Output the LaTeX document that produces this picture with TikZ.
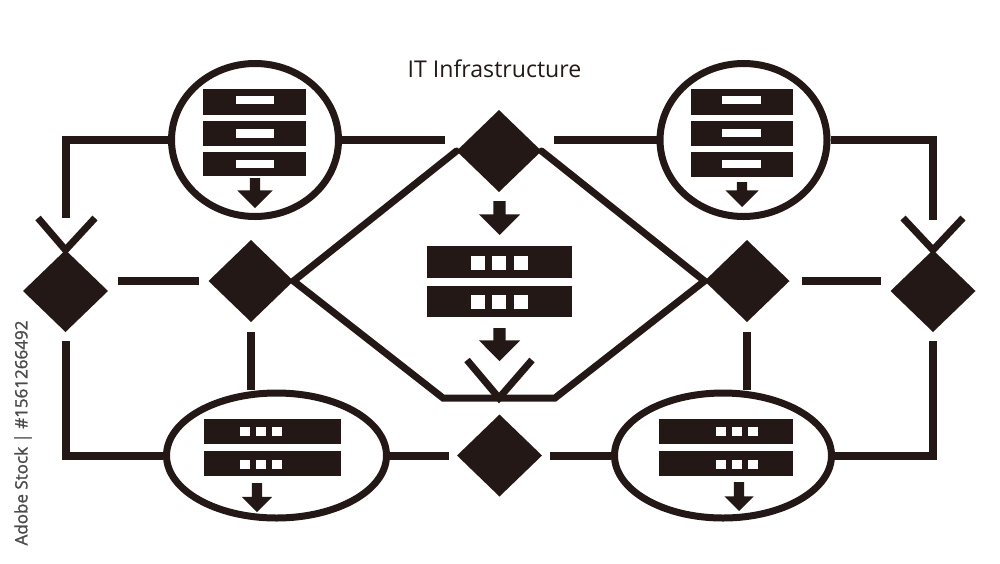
\documentclass[tikz,border=0pt]{standalone}
\usepackage{fontspec}
\setmainfont{Open Sans}
\newfontfamily\stockfont[FakeBold=1.4]{Open Sans}
\usetikzlibrary{shapes.geometric,shapes.arrows}
\definecolor{inkdark}{HTML}{231815}
\definecolor{stockgray}{HTML}{4A4A4A}
\tikzset{
  gate/.style={diamond,fill=inkdark,inner sep=0pt,outer sep=0pt,minimum width=85pt,minimum height=82pt},
  hub/.style={ellipse,draw=inkdark,line width=7pt,fill=white,inner sep=0pt},
  rack/.style={rectangle,fill=inkdark,inner sep=0pt,outer sep=0pt},
  slot/.style={rectangle,fill=white,inner sep=0pt,outer sep=0pt},
  downarrow/.style={single arrow,shape border rotate=270,fill=inkdark,outer sep=0pt,
    single arrow tip angle=90,anchor=tip},
  link/.style={draw=inkdark,line width=8pt},
}
\begin{document}
\begin{tikzpicture}[x=1pt,y=-1pt]
\useasboundingbox (0,0) rectangle (1000,563);

\node[font=\fontsize{23.1}{26}\selectfont,text=inkdark] (title) at (494.5,69) {IT Infrastructure};
\node[font=\stockfont\fontsize{17}{20}\selectfont,text=stockgray,rotate=90] (stock) at (23,433) {Adobe Stock | \#1561266492};

% hubs and gates
\node[hub,minimum width=167pt,minimum height=153pt] (hubNW) at (255,140) {};
\node[hub,minimum width=167pt,minimum height=153pt] (hubNE) at (743.5,140) {};
\node[hub,minimum width=220pt,minimum height=125pt] (hubSW) at (276.5,455.5) {};
\node[hub,minimum width=217pt,minimum height=125pt] (hubSE) at (723,455.5) {};

\node[gate] (gateTop) at (499,151) {};
\node[gate] (gateBot) at (499.5,455.5) {};
\node[gate] (gateFL) at (65.5,291) {};
\node[gate] (gateL) at (251,281) {};
\node[gate] (gateR) at (747,281) {};
\node[gate] (gateFR) at (933,291) {};

\coordinate (hexL) at (443,398);
\coordinate (hexR) at (555,398);
\coordinate (veeA) at (38,218);
\coordinate (veeB) at (95,218);
\coordinate (veeC) at (903,218);
\coordinate (veeD) at (963,218);
\coordinate (veeE) at (467,360);
\coordinate (veeF) at (532,360);

% connectors
\draw[link,line width=7pt,line cap=round] (gateL.east) -- (gateTop.west);
\draw[link,line width=7pt,line cap=round] (gateTop.east) -- (gateR.west);
\draw[link,line width=7pt,line cap=round] (gateL.east) -- (hexL) -- (hexR) -- (gateR.west);

\draw[link,shorten >=32pt] (hubNW.west) -| (gateFL.north);
\draw[link,shorten >=30pt] (hubNE.east) -| (gateFR.north);
\draw[link,shorten >=12pt] (hubNW.east) -- (hubNW.east -| gateTop.west);
\draw[link,shorten >=12pt] (hubNE.west) -- (hubNE.west -| gateTop.east);
\draw[link,shorten <=10pt,shorten >=10pt] (gateFL.east |- gateL.west) -- (gateL.west);
\draw[link,shorten <=12pt,shorten >=10pt] (gateR.east) -- (gateR.east -| gateFR.west);
\draw[link,shorten <=9pt] (gateFL.south) |- (hubSW.west);
\draw[link,shorten <=9pt] (gateFR.south) |- (hubSE.east);
\draw[link,shorten <=10pt] (gateL.south) -- (gateL.south |- hubSW.north);
\draw[link,shorten <=10pt] (gateR.south) -- (gateR.south |- hubSE.north);
\draw[link,shorten >=8pt] (hubSW.east) -- (gateBot.west);
\draw[link,shorten >=8pt] (hubSE.west) -- (gateBot.east);

\draw[link,line width=7pt] (veeA) -- (gateFL.north) -- (veeB);
\draw[link,line width=7pt] (veeC) -- (gateFR.north) -- (veeD);
\draw[link,line width=7pt] (veeE) -- (499,398) -- (veeF);

% racks
\foreach \n/\x/\y/\w/\h in {rA/254.5/102/103/26,rB/254.5/133.5/103/25,rC/254.5/164/103/24,
    rD/742/102/102/26,rE/742/133.5/102/25,rF/742/164.5/102/25,
    rG/499.5/262/145/32,rH/499.5/301.5/145/31,
    rJ/272.5/431.5/137/25,rK/272.5/463.5/137/25,
    rL/726/431.5/134/25,rM/726/463.5/134/25}
  \node[rack,minimum width=\w pt,minimum height=\h pt] (\n) at (\x,\y) {};

\foreach \n/\x/\y/\w/\h in {sA/255/100/38/8.5,sB/255/133.5/38/8.5,sC/255/164/38/8.5,
    sD/741.5/100/39/8.5,sE/741.5/133/39/8.5,sF/741.5/164/39/8.5,
    sG1/478/262.5/14/14,sG2/499/262.5/14/14,sG3/521/262.5/14/14,
    sH1/478/301.5/14/14,sH2/499/301.5/14/14,sH3/521/301.5/14/14,
    sJ1/245/431.5/10/9,sJ2/261/431.5/10/9,sJ3/277/431.5/10/9,
    sK1/245/464/10/9,sK2/261/464/10/9,sK3/277/464/10/9,
    sL1/721/431.5/10/9,sL2/737/431.5/10/9,sL3/753/431.5/10/9,
    sM1/721/464/10/9,sM2/737/464/10/9,sM3/753/464/10/9}
  \node[slot,minimum width=\w pt,minimum height=\h pt] (\n) at (\x,\y) {};

% arrows
\foreach \n/\x/\y/\l/\w/\e/\s in {aA/255/208/30/35/12.5/5,aB/742/207/25/33/11.5/5,
    aC/499.5/235/34/41/14.5/6,aD/499.5/361/33/41/14.5/6,
    aE/257/512/29/30/10/5,aF/739/511/29/29/9.5/5}
  \node[downarrow,inner sep=\s pt,minimum height=\l pt,minimum width=\w pt,single arrow head extend=\e pt] (\n) at (\x,\y) {};

\end{tikzpicture}
\end{document}
